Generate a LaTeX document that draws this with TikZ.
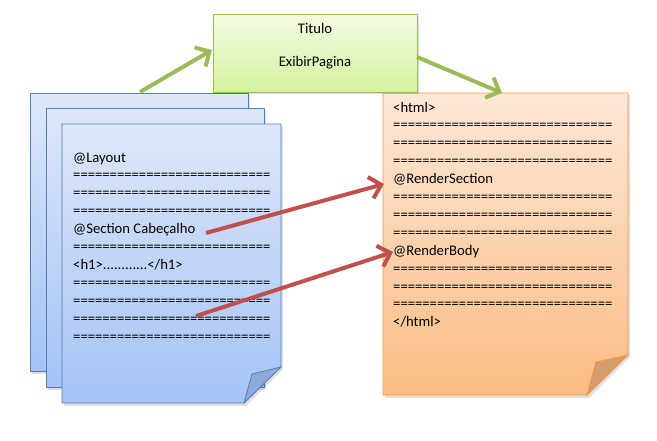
\documentclass[tikz,border=0pt]{standalone}
\usepackage{fontspec}
\setmainfont{Carlito}
\usetikzlibrary{arrows.meta}
\definecolor{gborder}{HTML}{9BBB59}
\definecolor{gtop}{HTML}{F3FBE3}
\definecolor{gbot}{HTML}{D5F3A0}
\definecolor{bborder}{HTML}{4F81BD}
\definecolor{btop}{HTML}{DDE7F9}
\definecolor{bbot}{HTML}{A5C3F5}
\definecolor{bfold}{HTML}{8EAAD9}
\definecolor{oborder}{HTML}{F79646}
\definecolor{otop}{HTML}{FDE8D8}
\definecolor{obot}{HTML}{FBBC82}
\definecolor{ofold}{HTML}{D49C6C}
\definecolor{redarr}{HTML}{C0504D}
\newcommand\eqL{===========================}
\newcommand\eqR{==============================}
\newcommand\hone{<h1>............</h1>}
\begin{document}
\begin{tikzpicture}[x=1pt,y=-1pt,
  txt/.style={anchor=base west, inner sep=0pt, font=\fontsize{14.67}{18}\selectfont},
  ctxt/.style={inner sep=0pt, font=\fontsize{14.67}{18}\selectfont},
  shadowpath/.style={fill=black, opacity=0.12},
  garrow/.style={draw=gborder, line width=4pt, -{Straight Barb[length=11pt,width=22pt]}},
  rarrow/.style={draw=redarr, line width=4pt, -{Straight Barb[length=11pt,width=22pt]}}]
\useasboundingbox (0,0) rectangle (657,440);

% back blue pages
\fill[shadowpath] (32,95) rectangle (250,374);
\shade[top color=btop, bottom color=bbot] (30,93) rectangle (248,371);
\draw[bborder, line width=0.8pt] (30,93) rectangle (248,371);
\fill[shadowpath] (48,110) rectangle (266,390);
\shade[top color=btop, bottom color=bbot] (46,108) rectangle (264,387);
\draw[bborder, line width=0.8pt] (46,108) rectangle (264,387);
% front blue page
\fill[shadowpath] (64,126) -- (283,126) -- (283,369) -- (246,406) -- (64,406) -- cycle;
\shade[top color=btop, bottom color=bbot] (62,124) -- (281,124) -- (281,367) -- (244,403) -- (62,403) -- cycle;
\draw[bborder, line width=0.8pt] (62,124) -- (281,124) -- (281,367) -- (244,403) -- (62,403) -- cycle;
\filldraw[fill=bfold, draw=bborder, line width=0.8pt] (244,403) -- (252,374) -- (281,367) -- cycle;

% orange page
\fill[shadowpath] (385,95) -- (630,95) -- (630,357) -- (589,398) -- (385,398) -- cycle;
\shade[top color=otop, bottom color=obot] (383,93) -- (628,93) -- (628,355) -- (587,395) -- (383,395) -- cycle;
\draw[oborder, line width=0.8pt] (383,93) -- (628,93) -- (628,355) -- (587,395) -- (383,395) -- cycle;
\filldraw[fill=ofold, draw=oborder, line width=0.8pt] (587,395) -- (596,362) -- (628,355) -- cycle;

% green box
\fill[shadowpath] (215,16) rectangle (419,94);
\node[draw=gborder, line width=0.8pt, top color=gtop, bottom color=gbot,
      minimum width=204pt, minimum height=78pt, inner sep=0pt] (title) at (315,53) {};
\node[ctxt] (t1) at (315,28) {Titulo};
\node[ctxt] (t2) at (315,63) {ExibirPagina};

% left text
\foreach \t [count=\i] in {{@Layout},{\eqL},{\eqL},{\eqL},{@Section Cabeçalho},{\eqL},{\hone},{\eqL},{\eqL},{\eqL},{\eqL}}
  \node[txt] (L\i) at (73,{162+(\i-1)*17.9}) {\t};

% right text
\foreach \t [count=\i] in {{<html>},{\eqR},{\eqR},{\eqR},{@RenderSection},{\eqR},{\eqR},{\eqR},{@RenderBody},{\eqR},{\eqR},{\eqR},{</html>}}
  \node[txt] (R\i) at (393,{112+(\i-1)*17.9}) {\t};

% connectors
\coordinate (g1s) at (140,92);
\coordinate (g1e) at (212,50);
\coordinate (g2s) at (417,57);
\coordinate (g2e) at (502,93);
\coordinate (r1s) at (206,233);
\coordinate (r1e) at (384,184);
\coordinate (r2s) at (196,316);
\coordinate (r2e) at (393,252);
\draw[garrow] (g1s) -- (g1e);
\draw[garrow] (g2s) -- (g2e);
\draw[rarrow] (r1s) -- (r1e);
\draw[rarrow] (r2s) -- (r2e);
\end{tikzpicture}
\end{document}
